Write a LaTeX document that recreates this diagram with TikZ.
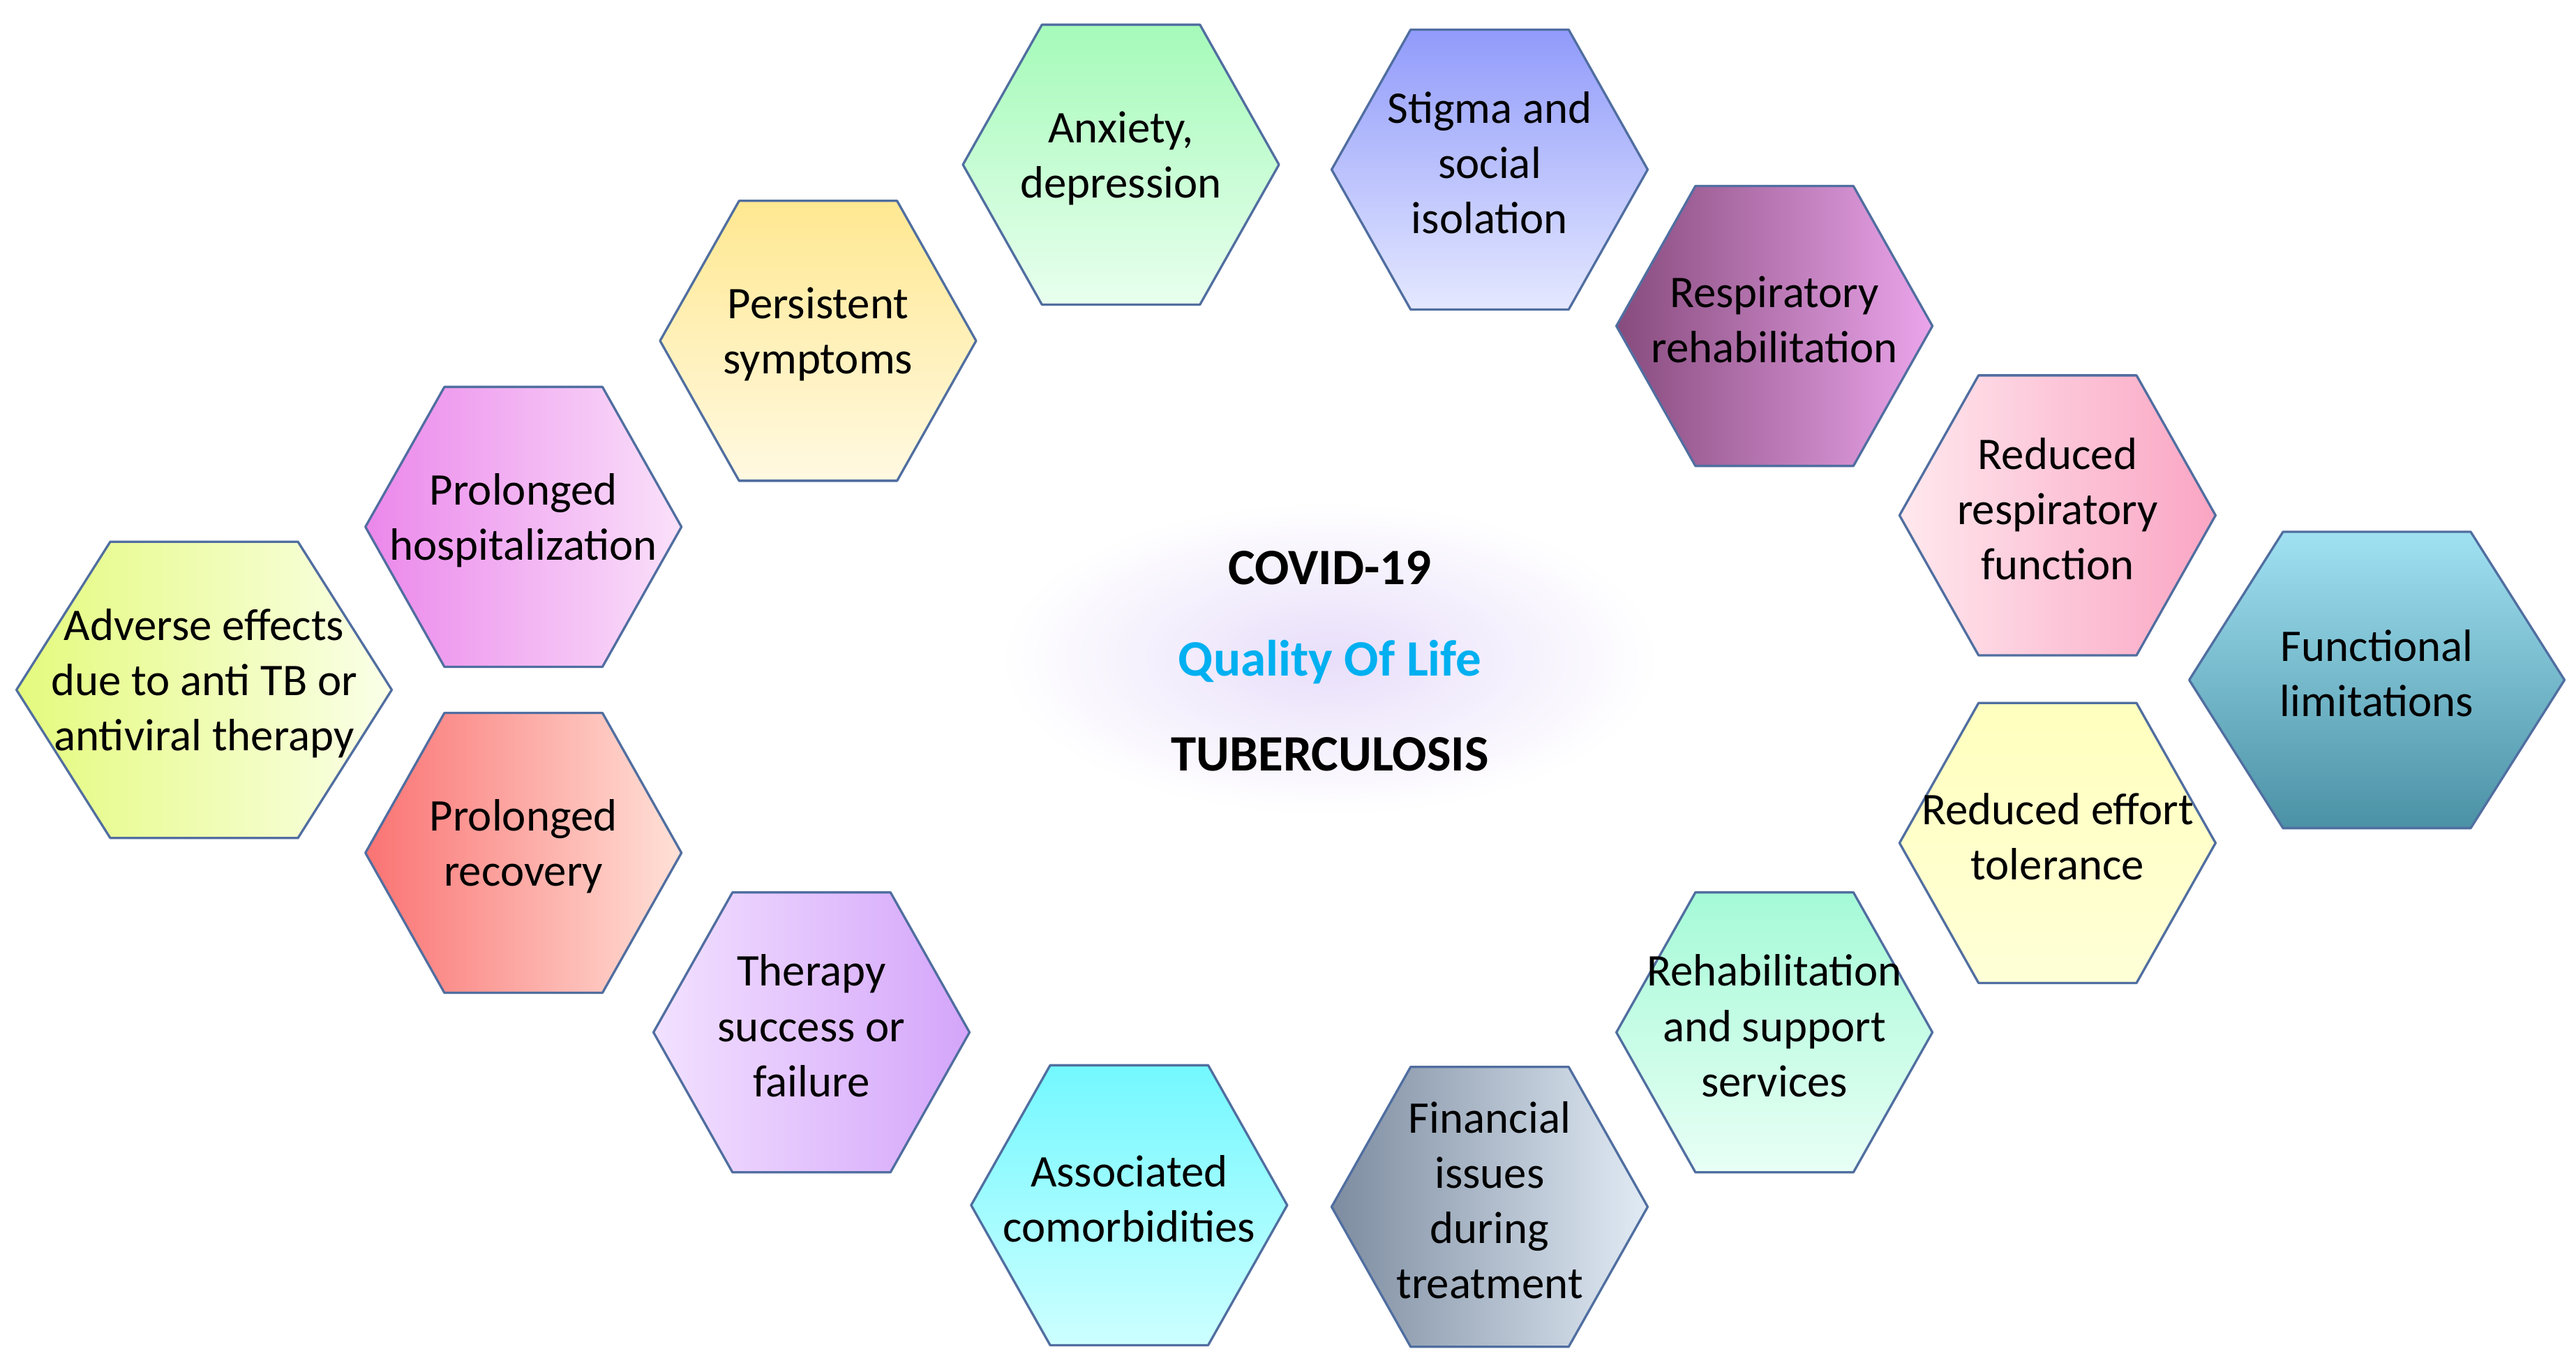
\documentclass[tikz,border=0pt]{standalone}
\usepackage{fontspec}
\setmainfont{Carlito}
\usetikzlibrary{calc}
\definecolor{hexborder}{RGB}{80,110,160}
\definecolor{qol}{RGB}{0,176,240}
\tikzset{
  hexline/.style={draw=hexborder,line width=1.4pt,line join=round},
  hextxt/.style={align=center,font=\fontsize{27.5}{33.5}\selectfont,text=black,inner sep=0pt},
  ctxt/.style={font=\fontsize{31}{34}\selectfont\bfseries,inner sep=0pt}
}
\newcommand\hexag[6]{%
\begin{scope}[shift={#2}]
\path[hexline,#5] (-#3,0) -- (-#3/2,-#4) -- (#3/2,-#4) -- (#3,0) -- (#3/2,#4) -- (-#3/2,#4) -- cycle;
\node[hextxt] (#1) at (0,-4) {#6};
\end{scope}}
\begin{document}
\begin{tikzpicture}[x=1pt,y=-1pt]
\useasboundingbox[fill=white] (0,0) rectangle (1565,832);
\shade[inner color={rgb,255:red,232;green,222;blue,250},outer color=white] (808,400) ellipse (200 and 95);
\node[ctxt] (covid) at (808,345) {COVID-19};
\node[ctxt,text=qol] (qol) at (808,402) {Quality Of Life};
\node[ctxt] (tb) at (808,458) {TUBERCULOSIS};
\hexag{anx}{(681,100)}{96}{85}{top color={rgb,255:red,165;green,250;blue,185},bottom color={rgb,255:red,232;green,255;blue,238}}{Anxiety,\\depression}
\hexag{stig}{(905,103)}{96}{85}{top color={rgb,255:red,145;green,155;blue,250},bottom color={rgb,255:red,228;green,232;blue,255}}{Stigma and\\social\\isolation}
\hexag{pers}{(497,207)}{96}{85}{top color={rgb,255:red,255;green,232;blue,145},bottom color={rgb,255:red,255;green,249;blue,225}}{Persistent\\symptoms}
\hexag{resp}{(1078,198)}{96}{85}{left color={rgb,255:red,135;green,75;blue,125},right color={rgb,255:red,235;green,165;blue,235}}{Respiratory\\rehabilitation}
\hexag{hosp}{(318,320)}{96}{85}{left color={rgb,255:red,235;green,135;blue,235},right color={rgb,255:red,250;green,225;blue,250}}{Prolonged\\hospitalization}
\hexag{redresp}{(1250,313)}{96}{85}{left color={rgb,255:red,255;green,232;blue,238},right color={rgb,255:red,250;green,165;blue,195}}{Reduced\\respiratory\\function}
\hexag{adv}{(124,419)}{114}{90}{left color={rgb,255:red,228;green,250;blue,125},right color={rgb,255:red,250;green,255;blue,232}}{Adverse effects\\due to anti TB or\\antiviral therapy}
\hexag{func}{(1444,413)}{114}{90}{shading angle=135,top color={rgb,255:red,160;green,225;blue,242},bottom color={rgb,255:red,75;green,145;blue,165}}{Functional\\limitations}
\hexag{rec}{(318,518)}{96}{85}{left color={rgb,255:red,250;green,115;blue,115},right color={rgb,255:red,255;green,225;blue,215}}{Prolonged\\recovery}
\hexag{eff}{(1250,512)}{96}{85}{top color={rgb,255:red,255;green,255;blue,190},bottom color={rgb,255:red,255;green,255;blue,215}}{Reduced effort\\tolerance}
\hexag{ther}{(493,627)}{96}{85}{left color={rgb,255:red,242;green,225;blue,255},right color={rgb,255:red,212;green,165;blue,250}}{Therapy\\success or\\failure}
\hexag{rehab}{(1078,627)}{96}{85}{top color={rgb,255:red,165;green,250;blue,215},bottom color={rgb,255:red,232;green,255;blue,245}}{Rehabilitation\\and support\\services}
\hexag{assoc}{(686,732)}{96}{85}{top color={rgb,255:red,115;green,248;blue,255},bottom color={rgb,255:red,205;green,255;blue,255}}{Associated\\comorbidities}
\hexag{fin}{(905,733)}{96}{85}{left color={rgb,255:red,125;green,140;blue,160},right color={rgb,255:red,225;green,235;blue,245}}{Financial\\issues\\during\\treatment}
\end{tikzpicture}
\end{document}
